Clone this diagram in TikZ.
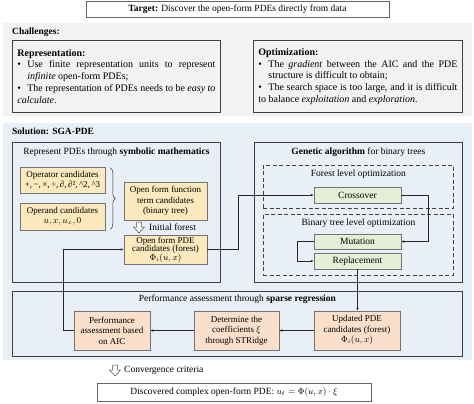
\documentclass[tikz,border=0pt]{standalone}
\usepackage{fontspec}
\setmainfont{Liberation Serif}
\usetikzlibrary{positioning,decorations.pathreplacing,arrows.meta}
\definecolor{bgblue}{HTML}{E9EFF7}
\definecolor{bggray}{HTML}{F2F2F2}
\definecolor{fillyellow}{HTML}{FCE9BE}
\definecolor{fillgreen}{HTML}{E5EFD7}
\definecolor{fillorange}{HTML}{FADFCB}
\definecolor{edge}{HTML}{404040}
\hyphenpenalty=10000
\exhyphenpenalty=10000
\newcommand{\bul}{\par\noindent\hangindent=10pt\hangafter=1\makebox[10pt][l]{\textbullet}}

\begin{document}
\begin{tikzpicture}[x=1pt,y=-1pt]
\tikzstyle{every node}=[font=\fontsize{9.5}{11.5}\selectfont, inner sep=2pt]
\tikzstyle{panel}=[draw=edge, line width=0.8pt, rectangle, anchor=north west]
\tikzstyle{dashpanel}=[panel, dash pattern=on 4pt off 2.5pt]
\tikzstyle{challenge}=[panel, text width=198pt, minimum height=72pt, inner sep=5pt, align=justify,
  font=\fontsize{10}{11.8}\selectfont]
\tikzstyle{cand}=[draw=black!55, line width=0.5pt, fill=fillyellow, align=center, inner sep=1pt,
  font=\fontsize{9}{10.5}\selectfont]
\tikzstyle{ga}=[cand, fill=fillgreen, minimum width=87pt, minimum height=15.5pt, font=\fontsize{9.5}{11}\selectfont]
\tikzstyle{sr}=[cand, fill=fillorange, minimum height=39pt]
\tikzstyle{line}=[draw=black!85, line width=0.6pt, -{Latex[length=3pt,width=2.6pt]}]
\tikzstyle{hollow}=[draw=black!70, line width=0.5pt, fill=white]

\useasboundingbox (0,0) rectangle (474,404);

% target
\node[draw=black!60, line width=0.8pt, minimum width=303pt, minimum height=16pt] (target) at (237.5,9)
  {\textbf{Target:} Discover the open-form PDEs directly from data};

% challenges
\node[fill=bggray, minimum width=469pt, minimum height=93pt, anchor=north west] (chbg) at (3,23) {};
\node[anchor=west, inner sep=0pt] (chtitle) at (12,32) {\textbf{Challenges:}};
\node[challenge] (repr) at (12,40) {
  \textbf{Representation:}
  \bul Use finite representation units to represent \textit{infinite} open-form PDEs;
  \bul The representation of PDEs needs to be \textit{easy to calculate}.};
\node[challenge, text width=199pt] (optim) at (253,40) {
  \textbf{Optimization:}
  \bul The \textit{gradient} between the AIC and the PDE structure is difficult to obtain;
  \bul The search space is too large, and it is difficult to balance \textit{exploitation} and \textit{exploration}.};

% solution
\node[fill=bgblue, minimum width=469pt, minimum height=237pt, anchor=north west] (solbg) at (3,123) {};
\node[anchor=west, inner sep=0pt] (soltitle) at (12,131) {\textbf{Solution: SGA-PDE}};

% symbolic mathematics
\node[panel, minimum width=208pt, minimum height=140pt] (sym) at (12,142) {};
\node[below=6pt of sym.north, inner sep=0pt] (symtitle) {Represent PDEs through \textbf{symbolic mathematics}};
\node[cand, minimum width=85pt, minimum height=26pt] (op) at (62.5,180)
  {Operator candidates\\+,\,−,\,×,\,÷,\,\textit{∂},\,\textit{∂}²,\,\textasciicircum2,\,\textasciicircum3};
\node[cand, minimum width=85pt, minimum height=27pt] (opd) at (62.5,216.5)
  {Operand candidates\\$u, x, u_x, 0$};
\node[cand, minimum width=83pt, minimum height=38pt] (func) at (165.5,201)
  {Open form function\\term candidates\\(binary tree)};
\node[cand, minimum width=83pt, minimum height=29pt] (pde) at (165.5,249.5)
  {Open form PDE\\[-2pt]candidates (forest)\\[-2pt]$\Phi_i(u,x)$};
\draw[decorate, decoration={brace, amplitude=5pt}, line width=0.5pt, draw=black!80]
  ([xshift=5pt,yshift=-1pt]op.north east) -- ([xshift=5pt,yshift=1pt]opd.south east);
\coordinate (init) at (139,222);
\draw[hollow] (init) ++(-2.5,0) -- ++(5,0) -- ++(0,5) -- ++(3,0) -- ++(-5.5,6) -- ++(-5.5,-6) -- ++(3,0) -- cycle;
\node[anchor=west, inner sep=0pt] (inittext) at (149,227.5) {Initial forest};

% genetic algorithm
\node[panel, minimum width=208pt, minimum height=140pt] (gen) at (254,142) {};
\node[below=6pt of gen.north, inner sep=0pt] (gentitle) {\textbf{Genetic algorithm} for binary trees};
\node[dashpanel, minimum width=190pt, minimum height=43pt] (forest) at (263,165) {};
\node[below=5pt of forest.north, inner sep=0pt] (foresttitle) {Forest level optimization};
\node[ga] (cross) at (357.5,195) {Crossover};
\node[dashpanel, minimum width=190pt, minimum height=61pt] (tree) at (263,214) {};
\node[below=5pt of tree.north, inner sep=0pt] (treetitle) {Binary tree level optimization};
\node[ga, minimum height=15pt] (mut) at (357.5,241.5) {Mutation};
\node[ga] (rep) at (357.5,261) {Replacement};

% sparse regression
\node[panel, minimum width=450pt, minimum height=65pt] (sparse) at (12,291) {};
\node[below=4pt of sparse.north, inner sep=0pt] (sparsetitle) {Performance assessment through \textbf{sparse regression}};
\node[sr, minimum width=86pt] (upd) at (357,330.5) {Updated PDE\\candidates (forest)\\$\Phi_i(u,x)$};
\node[sr, minimum width=85pt] (det) at (236.5,330.5) {Determine the\\coefficients $\xi$\\through STRidge};
\node[sr, minimum width=76pt] (aic) at (112,330.5) {Performance\\assessment based\\on AIC};

% connectors
\draw[line] (pde.east) -- ++(31,0) |- (cross.west);
\draw[line] (cross.east) -- ++(27,0) |- (mut.east);
\draw[line] (mut.west) -- ++(-16,0) |- (rep.west);
\draw[line] (rep.south) -- (rep.south |- upd.north);
\draw[line] (upd) -- (det);
\draw[line] (det) -- (aic);
\draw[line] (aic.west) -- ++(-10,0) |- (pde.west);

% result
\coordinate (conv) at (115,365);
\draw[hollow] (conv) ++(-2.5,0) -- ++(5,0) -- ++(0,5) -- ++(3,0) -- ++(-5.5,6) -- ++(-5.5,-6) -- ++(3,0) -- cycle;
\node[anchor=west, inner sep=0pt] (convtext) at (124,370) {Convergence criteria};
\node[draw=black!60, line width=0.8pt, minimum width=274pt, minimum height=18pt] (result) at (234,392)
  {Discovered complex open-form PDE: $u_t=\Phi(u,x)\cdot\xi$};
\end{tikzpicture}
\end{document}
